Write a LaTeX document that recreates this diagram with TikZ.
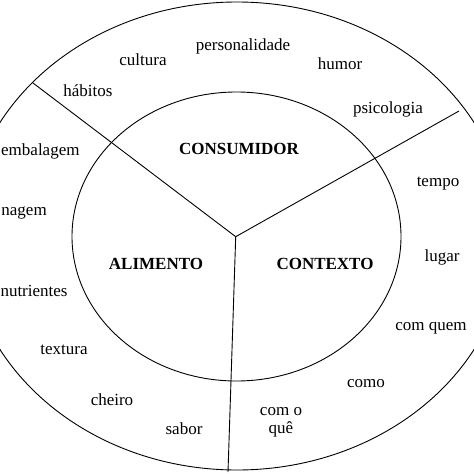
\documentclass[tikz,border=0pt]{standalone}
\usepackage{fontspec}
\setmainfont{Liberation Serif}
\usetikzlibrary{positioning}

\begin{document}
\begin{tikzpicture}[x=1pt,y=-1pt,line width=0.9pt,
	word/.style={font=\fontsize{17}{20}\selectfont,inner sep=0pt},
	area/.style={font=\fontsize{17}{20}\selectfont\bfseries,inner sep=0pt}]
	\useasboundingbox (0,0) rectangle (474,474);
	\clip (0,0) rectangle (474,474);
	\draw (237,236) ellipse [x radius=271,y radius=234];			% camada externa
	\draw (236.5,236.5) ellipse [x radius=164.5,y radius=144.5];	% nucleo
	\coordinate (ctr) at (235.7,236.7);
	\coordinate (cUL) at (33,83);
	\coordinate (cUR) at (459,111);
	\coordinate (cB) at (228,472);
	\draw (ctr) -- (cUL);
	\draw (ctr) -- (cUR);
	\draw (ctr) -- (cB);
	\node[area] (consumidor) at (239,149) {CONSUMIDOR};
	\node[area] (alimento) at (156,264) {ALIMENTO};
	\node[area] (contexto) at (325,264) {CONTEXTO};
	\foreach \t/\x/\y/\n in {cultura/143/60/cult,personalidade/243/46/pers,humor/340/64/hum,
			hábitos/88/91/hab,psicologia/388/109/psic,tempo/438/184/temp,lugar/442/257/lug,
			com quem/431/328/cquem,como/366/384/com,textura/64/350/text,cheiro/112/400/cheir,
			sabor/184/429/sab}
		\node[word] (\n) at (\x,\y) {\t};
	\node[word,anchor=east] (embal) at (80,151) {embalagem};
	\node[word,anchor=west] (nag) at (1,213) {nagem};
	\node[word,anchor=east] (nutr) at (68,291) {nutrientes};
	\node[word] (como) at (281,412) {com o};
	\node[word,below=5pt of como] (que) {quê};
\end{tikzpicture}
\end{document}
